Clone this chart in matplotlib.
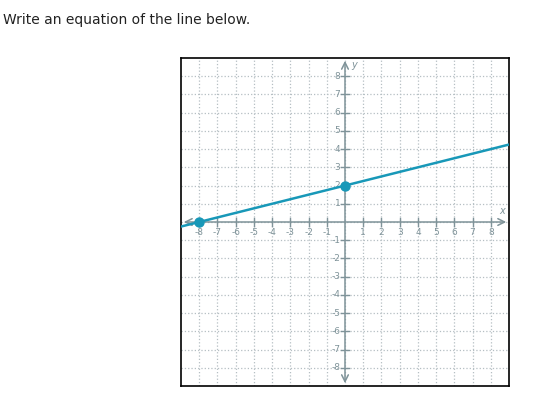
import matplotlib
matplotlib.use('Agg')
import matplotlib.pyplot as plt

# data
pts_x = [-8, 0]
pts_y = [0, 2]
slope = 0.25
intercept = 2
xlim = (-9, 9)
ticks = [-8, -7, -6, -5, -4, -3, -2, -1, 1, 2, 3, 4, 5, 6, 7, 8]

LINE = '#1898b8'
AXIS = '#7f9399'

fig = plt.figure(figsize=(5.51, 4.07), dpi=100)
fig.text(3 / 551, 1 - 20 / 407, 'Write an equation of the line below.', fontsize=10,
         va='center', ha='left', color='#222222')

ax = fig.add_axes([181 / 551, 21 / 407, 328 / 551, 328 / 407])
ax.set_xlim(*xlim)
ax.set_ylim(*xlim)
ax.set_xticks([])
ax.set_yticks([])
for s in ax.spines.values():
    s.set_color('black')
    s.set_linewidth(1.2)

for v in range(-8, 9):
    ax.axvline(v, color='#b5bfc3', linestyle=':', linewidth=0.9, zorder=0)
    ax.axhline(v, color='#b5bfc3', linestyle=':', linewidth=0.9, zorder=0)

ax.annotate('', xy=(9, 0), xytext=(-9, 0),
            arrowprops=dict(arrowstyle='<->', color=AXIS, lw=1.1, mutation_scale=12))
ax.annotate('', xy=(0, 9), xytext=(0, -9),
            arrowprops=dict(arrowstyle='<->', color=AXIS, lw=1.1, mutation_scale=12))

for t in ticks:
    ax.plot([t, t], [-0.2, 0.2], color=AXIS, lw=1)
    ax.plot([-0.2, 0.2], [t, t], color=AXIS, lw=1)
    ax.text(t, -0.35, str(t), ha='center', va='top', fontsize=6.5, color=AXIS)
    ax.text(-0.25, t, str(t), ha='right', va='center', fontsize=6.5, color=AXIS)
ax.text(8.6, 0.35, 'x', fontsize=7, style='italic', color=AXIS, ha='center', va='bottom')
ax.text(0.35, 8.6, 'y', fontsize=7, style='italic', color=AXIS, ha='left', va='center')

xs = [xlim[0], xlim[1]]
ax.plot(xs, [slope * x + intercept for x in xs], color=LINE, lw=1.8, zorder=3)
ax.plot(pts_x, pts_y, 'o', color=LINE, markersize=6.5, zorder=4)

fig.savefig('out.png', dpi=100)
